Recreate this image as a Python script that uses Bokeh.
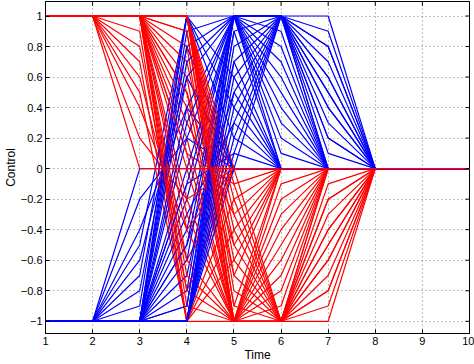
from bokeh.plotting import figure
from bokeh.models import FixedTicker, Range1d, ColumnDataSource
from bokeh.embed import file_html
from bokeh.resources import INLINE

time = [1, 2, 3, 4, 5, 6, 7, 8, 9, 10]

red_runs = [
    [1, 1, 0.8, -0.8, 0, 0, 0, 0, 0, 0],
    [1, 1, 0.6, -0.6, 0, 0, 0, 0, 0, 0],
    [1, 1, 0.4, -0.4, 0, 0, 0, 0, 0, 0],
    [1, 1, 0.2, -0.2, 0, 0, 0, 0, 0, 0],
    [1, 1, 0, 0, 0, 0, 0, 0, 0, 0],
    [1, 1, 0.9, -1, -0.6, 0, 0, 0, 0, 0],
    [1, 1, 0.7, -1, -0.4, 0, 0, 0, 0, 0],
    [1, 1, 0.5, -1, -0.2, 0, 0, 0, 0, 0],
    [1, 1, 1, 0.9, -0.9, 0, 0, 0, 0, 0],
    [1, 1, 1, 0.7, -0.7, 0, 0, 0, 0, 0],
    [1, 1, 1, 0.5, -0.5, 0, 0, 0, 0, 0],
    [1, 1, 1, 0.3, -0.3, 0, 0, 0, 0, 0],
    [1, 1, 1, 0.1, -0.1, 0, 0, 0, 0, 0],
    [1, 1, 1, 0.8, -1, -0.1, 0, 0, 0, 0],
    [1, 1, 1, 0.6, -1, -0.2, 0, 0, 0, 0],
    [1, 1, 1, 0.4, -1, -0.3, 0, 0, 0, 0],
    [1, 1, 1, 0.2, -1, -0.4, 0, 0, 0, 0],
    [1, 1, 1, 0, -1, -0.5, 0, 0, 0, 0],
    [1, 1, 1, -0.2, -1, -0.6, 0, 0, 0, 0],
    [1, 1, 1, -0.4, -1, -0.7, 0, 0, 0, 0],
    [1, 1, 1, -0.6, -1, -0.8, 0, 0, 0, 0],
    [1, 1, 1, -0.8, -1, -0.9, 0, 0, 0, 0],
    [1, 1, 1, -0.9, -1, 0, 0, 0, 0, 0],
    [1, 1, 1, 0.9, -1, -1, -0.2, 0, 0, 0],
    [1, 1, 1, 0.5, -1, -1, -0.4, 0, 0, 0],
    [1, 1, 1, 0.1, -1, -1, -0.6, 0, 0, 0],
    [1, 1, 1, -0.3, -1, -1, -0.8, 0, 0, 0],
    [1, 1, 1, -0.7, -1, -1, 0, 0, 0, 0],
    [1, 1, 1, -1, -1, -1, -0.5, 0, 0, 0],
    [1, 1, 1, 1, 0, -1, -0.9, 0, 0, 0],
    [1, 1, 1, 1, -0.1, -1, -0.1, 0, 0, 0],
    [1, 1, 1, 1, -0.2, -1, -0.7, 0, 0, 0],
    [1, 1, 1, 1, -0.3, -1, -0.3, 0, 0, 0],
    [1, 1, 1, 1, -0.4, -1, -0.5, 0, 0, 0],
    [1, 1, 1, 1, -0.5, -1, -0.8, 0, 0, 0],
    [1, 1, 1, 1, -0.6, -1, -0.2, 0, 0, 0],
    [1, 1, 1, 1, -0.7, -1, -0.6, 0, 0, 0],
    [1, 1, 1, 1, -0.8, -1, -0.4, 0, 0, 0],
    [1, 1, 1, 1, -0.9, -1, 0, 0, 0, 0],
    [1, 1, 1, 1, -1, -1, -1, 0, 0, 0],
]

blue_runs = [
    [-1, -1, -0.8, 0.8, 0, 0, 0, 0, 0, 0],
    [-1, -1, -0.6, 0.6, 0, 0, 0, 0, 0, 0],
    [-1, -1, -0.4, 0.4, 0, 0, 0, 0, 0, 0],
    [-1, -1, -0.2, 0.2, 0, 0, 0, 0, 0, 0],
    [-1, -1, 0, 0, 0, 0, 0, 0, 0, 0],
    [-1, -1, -0.9, 1, 0.6, 0, 0, 0, 0, 0],
    [-1, -1, -0.7, 1, 0.4, 0, 0, 0, 0, 0],
    [-1, -1, -0.5, 1, 0.2, 0, 0, 0, 0, 0],
    [-1, -1, -1, -0.9, 0.9, 0, 0, 0, 0, 0],
    [-1, -1, -1, -0.7, 0.7, 0, 0, 0, 0, 0],
    [-1, -1, -1, -0.5, 0.5, 0, 0, 0, 0, 0],
    [-1, -1, -1, -0.3, 0.3, 0, 0, 0, 0, 0],
    [-1, -1, -1, -0.1, 0.1, 0, 0, 0, 0, 0],
    [-1, -1, -1, -0.8, 1, 0.1, 0, 0, 0, 0],
    [-1, -1, -1, -0.6, 1, 0.2, 0, 0, 0, 0],
    [-1, -1, -1, -0.4, 1, 0.3, 0, 0, 0, 0],
    [-1, -1, -1, -0.2, 1, 0.4, 0, 0, 0, 0],
    [-1, -1, -1, 0, 1, 0.5, 0, 0, 0, 0],
    [-1, -1, -1, 0.2, 1, 0.6, 0, 0, 0, 0],
    [-1, -1, -1, 0.4, 1, 0.7, 0, 0, 0, 0],
    [-1, -1, -1, 0.6, 1, 0.8, 0, 0, 0, 0],
    [-1, -1, -1, 0.8, 1, 0.9, 0, 0, 0, 0],
    [-1, -1, -1, 0.9, 1, 0, 0, 0, 0, 0],
    [-1, -1, -1, -0.9, 1, 1, 0.2, 0, 0, 0],
    [-1, -1, -1, -0.5, 1, 1, 0.4, 0, 0, 0],
    [-1, -1, -1, -0.1, 1, 1, 0.6, 0, 0, 0],
    [-1, -1, -1, 0.3, 1, 1, 0.8, 0, 0, 0],
    [-1, -1, -1, 0.7, 1, 1, 0, 0, 0, 0],
    [-1, -1, -1, 1, 1, 1, 0.5, 0, 0, 0],
    [-1, -1, -1, -1, 0, 1, 0.9, 0, 0, 0],
    [-1, -1, -1, -1, 0.1, 1, 0.1, 0, 0, 0],
    [-1, -1, -1, -1, 0.2, 1, 0.7, 0, 0, 0],
    [-1, -1, -1, -1, 0.3, 1, 0.3, 0, 0, 0],
    [-1, -1, -1, -1, 0.4, 1, 0.5, 0, 0, 0],
    [-1, -1, -1, -1, 0.5, 1, 0.8, 0, 0, 0],
    [-1, -1, -1, -1, 0.6, 1, 0.2, 0, 0, 0],
    [-1, -1, -1, -1, 0.7, 1, 0.6, 0, 0, 0],
    [-1, -1, -1, -1, 0.8, 1, 0.4, 0, 0, 0],
    [-1, -1, -1, -1, 0.9, 1, 0, 0, 0, 0],
    [-1, -1, -1, -1, 1, 1, 1, 0, 0, 0],
]

x_ticks = [1, 2, 3, 4, 5, 6, 7, 8, 9, 10]
y_ticks = [-1, -0.8, -0.6, -0.4, -0.2, 0, 0.2, 0.4, 0.6, 0.8, 1]
y_tick_labels = ["\u22121", "\u22120.8", "\u22120.6", "\u22120.4", "\u22120.2",
                 "0", "0.2", "0.4", "0.6", "0.8", "1"]

FONT = "Liberation Sans"
X0, X1 = 1, 10
Y0, Y1 = -1.08, 1.095

p = figure(width=474, height=364, x_range=Range1d(X0, X1), y_range=Range1d(Y0, Y1),
           output_backend="svg", toolbar_location=None,
           min_border_left=20, min_border_right=5, min_border_top=1, min_border_bottom=0,
           background_fill_color="white", border_fill_color="white")
p.outline_line_color = "black"
p.outline_line_width = 1

xs, ys, colors = [], [], []
for rb, rr in zip(blue_runs, red_runs):
    xs.append(time); ys.append(rb); colors.append("#0000ff")
    xs.append(time); ys.append(rr); colors.append("#ff0000")
src = ColumnDataSource(dict(xs=xs, ys=ys, color=colors))
p.multi_line(xs="xs", ys="ys", line_color="color", line_width=1.2, source=src)

# inward tick marks on the top and right edges of the box
tx = 0.085
ty = 0.028
p.segment(x0=x_ticks, x1=x_ticks, y0=[Y1] * len(x_ticks), y1=[Y1 - ty] * len(x_ticks),
          line_color="black", line_width=1)
p.segment(x0=[X1] * len(y_ticks), x1=[X1 - tx] * len(y_ticks), y0=y_ticks, y1=y_ticks,
          line_color="black", line_width=1)

p.xaxis.ticker = FixedTicker(ticks=x_ticks)
p.yaxis.ticker = FixedTicker(ticks=y_ticks)
p.yaxis.major_label_overrides = {v: s for v, s in zip(y_ticks, y_tick_labels)}
p.xaxis.axis_label = "Time"
p.yaxis.axis_label = "Control"

for ax in (p.xaxis[0], p.yaxis[0]):
    ax.major_tick_in = 4
    ax.major_tick_out = 0
    ax.minor_tick_line_color = None
    ax.major_label_text_font = FONT
    ax.major_label_text_font_size = "11px"
    ax.major_label_text_color = "black"
    ax.axis_label_text_font = FONT
    ax.axis_label_text_font_size = "12px"
    ax.axis_label_text_font_style = "normal"
    ax.axis_label_text_color = "black"
    ax.axis_label_standoff = 0
    ax.major_label_standoff = 3
    ax.axis_line_color = "black"
    ax.major_tick_line_color = "black"

p.xgrid.ticker = FixedTicker(ticks=x_ticks)
p.ygrid.ticker = FixedTicker(ticks=y_ticks)
for g in (p.xgrid[0], p.ygrid[0]):
    g.grid_line_color = "#808080"
    g.grid_line_dash = "1 3"
    g.grid_line_width = 1

open("out.html", "w").write(file_html(p, INLINE))
